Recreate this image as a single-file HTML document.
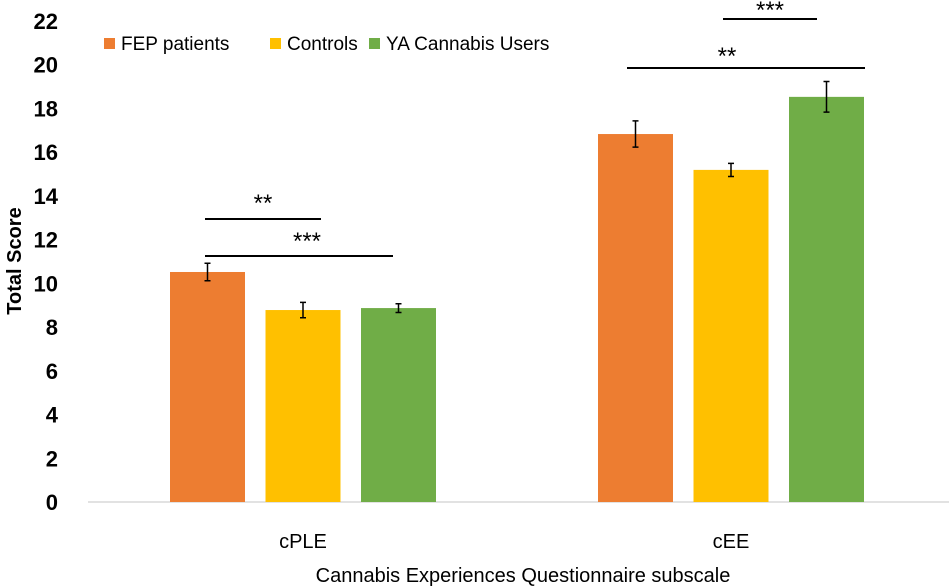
<!DOCTYPE html>
<html><head><meta charset="utf-8"><style>
body{margin:0;background:#fff;}
svg{display:block;font-family:"Liberation Sans",sans-serif;}
</style></head><body>
<svg id="chart" width="949" height="588"></svg>
<script>
const categories=["cPLE","cEE"];
const seriesNames=["FEP patients","Controls","YA Cannabis Users"];
const fepValues=[10.52,16.83];
const controlValues=[8.78,15.19];
const yaValues=[8.87,18.53];
const fepErr=[0.4,0.6];
const controlErr=[0.35,0.3];
const yaErr=[0.2,0.7];
const yTicks=[0,2,4,6,8,10,12,14,16,18,20,22];
const colors=["#ED7D31","#FFC000","#70AD47"];
const NS="http://www.w3.org/2000/svg";
const svg=document.getElementById("chart");
function mk(t,a,p){const e=document.createElementNS(NS,t);for(const k in a)e.setAttribute(k,a[k]);(p||svg).appendChild(e);return e;}
const y0=502,yTop=21,yMax=22;
const y=v=>y0-(v/yMax)*(y0-yTop);
const groupStart=[170,598];
const barW=75,barStep=95.5;
const x=(ci,si)=>groupStart[ci]+si*barStep;
yTicks.forEach(t=>{const e=mk("text",{x:58,y:y(t)+8,"text-anchor":"end","font-size":22,"font-weight":"bold",fill:"#000"});e.textContent=t;

});
const ax=mk("line",{x1:88,x2:949,y1:y0,y2:y0,stroke:"#d9d9d9","stroke-width":1.5});


const series=[fepValues,controlValues,yaValues];
const errs=[fepErr,controlErr,yaErr];
series.forEach((vals,si)=>vals.forEach((v,ci)=>{
 const r=mk("rect",{x:x(ci,si),y:y(v),width:barW,height:y0-y(v),fill:colors[si]});
 
 
 const cx=x(ci,si)+barW/2,e=errs[si][ci];
 const g=mk("path",{d:`M${cx},${y(v+e)}V${y(v-e)}M${cx-3},${y(v+e)}h6M${cx-3},${y(v-e)}h6`,stroke:"#000","stroke-width":1.5,fill:"none"});
 
 
}));
categories.forEach((c,ci)=>{const t=mk("text",{x:x(ci,1)+barW/2,y:548,"text-anchor":"middle","font-size":20,fill:"#000"});t.textContent=c;

});
const sig=[[205,321,219,"**",263,202],[205,393,256,"***",307,240],[627,865,68,"**",727,55],[723,817,19,"***",770,9]];
sig.forEach(s=>{const l=mk("line",{x1:s[0],x2:s[1],y1:s[2],y2:s[2],stroke:"#000","stroke-width":2});


const t=mk("text",{x:s[4],y:s[5]+9,"text-anchor":"middle","font-size":24,fill:"#000"});t.textContent=s[3];

});
const lx=[104,270,369];
seriesNames.forEach((n,i)=>{const r=mk("rect",{x:lx[i],y:38,width:11,height:11,fill:colors[i]});


const t=mk("text",{x:lx[i]+17,y:50,"font-size":19,fill:"#000"});t.textContent=n;

});
const yt=mk("text",{x:0,y:0,"font-size":20,"font-weight":"bold",fill:"#000","text-anchor":"middle",transform:"translate(21,261) rotate(-90)"});yt.textContent="Total Score";


const xt=mk("text",{x:523,y:582,"font-size":20,fill:"#000","text-anchor":"middle"});xt.textContent="Cannabis Experiences Questionnaire subscale";


</script>
</body></html>
